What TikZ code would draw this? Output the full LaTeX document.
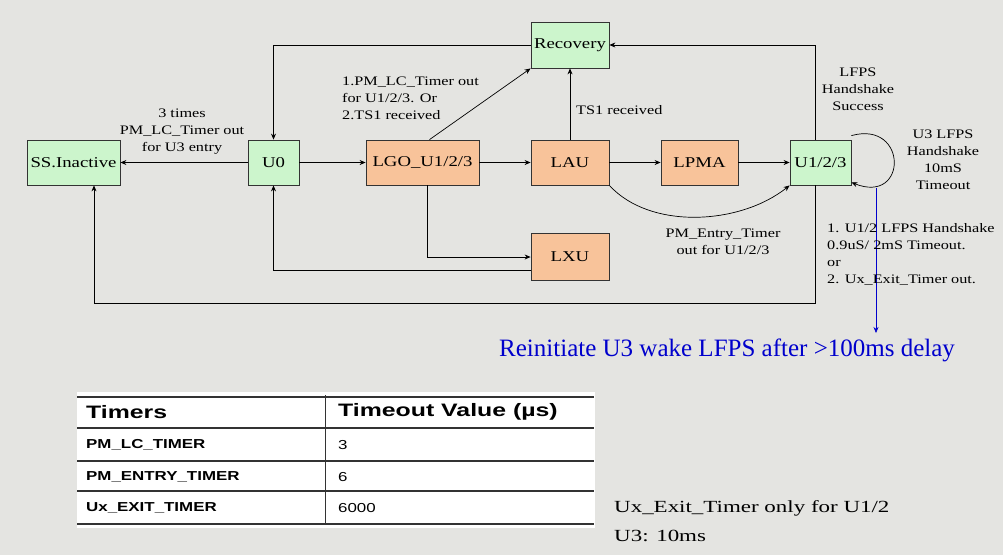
\documentclass[tikz,border=0pt]{standalone}
\usepackage{fontspec}
\setmainfont{Liberation Serif}
\newfontfamily\wideserif{Liberation Serif}[FakeStretch=1.25]
\newfontfamily\noteserif{Liberation Serif}[FakeStretch=1.35]
\newfontfamily\tabfont{Liberation Sans}[FakeStretch=1.3]
\newfontfamily\headfont{Liberation Sans}[FakeStretch=1.38]
\usetikzlibrary{arrows.meta}
\definecolor{bg}{HTML}{E4E4E1}
\definecolor{gfill}{HTML}{CCF5CC}
\definecolor{ofill}{HTML}{F8C39A}
\begin{document}
\begin{tikzpicture}[x=1pt,y=-1pt,
  box/.style={draw=black!80,line width=0.8pt,minimum height=45pt,inner sep=0pt,font=\wideserif\fontsize{15}{17}\selectfont},
  gbox/.style={box,fill=gfill},
  obox/.style={box,fill=ofill},
  con/.style={line width=0.7pt,-{Stealth[length=6pt,width=5pt]}},
  lab/.style={font=\wideserif\fontsize{13}{17}\selectfont,align=center,inner sep=1pt},
  tt/.style={font=\tabfont\fontsize{13}{15}\selectfont,anchor=west,inner sep=0pt}]
\fill[bg] (0,0) rectangle (1003,555);
\useasboundingbox (0,0) rectangle (1003,555);
% nodes
\node[gbox,minimum width=93pt] (ss) at (73.5,162.5) {SS.Inactive};
\node[gbox,minimum width=51pt] (u0) at (273.5,162.5) {U0};
\node[obox,minimum width=113pt] (lgo) at (422.5,162.5) {LGO\_U1/2/3};
\node[obox,minimum width=78pt] (lau) at (570,162.5) {LAU};
\node[obox,minimum width=77pt] (lpma) at (699.5,162.5) {LPMA};
\node[gbox,minimum width=61pt] (u123) at (820.5,162.5) {U1/2/3};
\node[gbox,minimum width=78pt,minimum height=46pt] (rec) at (570,45) {Recovery};
\node[obox,minimum width=78pt,minimum height=47pt] (lxu) at (570,256.5) {LXU};
% connectors
\draw[con] (u0) -- (ss);
\draw[con] (u0) -- (lgo);
\draw[con] (lgo) -- (lau);
\draw[con] (lau) -- (lpma);
\draw[con] (lpma) -- (u123);
\draw[con] (lau) -- (rec);
\draw[con] (lgo.north) ++(7,0) coordinate (lgot) -- (rec.south west);
\draw[con] (rec.west) -| (u0.north);
\draw[con] (u123.north -| 815,0) |- (rec.east);
\draw[con] (lgo.south) ++(5,0) coordinate (lgob) |- (lxu.west |- 0,257);
\draw[con] (lxu.west |- 0,270) -| (u0.south);
\draw[con] (u123.south -| 815,0) |- (94,303) -- (ss.south -| 94,0);
\draw[con] (lau.south east) .. controls (650,230) and (740,225) .. (u123.south west);
\draw[con] (u123.north east) ++(0,-4) .. controls (908,120) and (908,205) .. ([yshift=3pt]u123.south east);
\coordinate (bt) at (876,188);
\node[font=\fontsize{25}{28}\selectfont,text=blue!80!black,anchor=west,inner sep=0pt] (re) at (499,350) {Reinitiate U3 wake LFPS after >100ms delay};
\draw[blue!80!black,line width=0.6pt,-{Stealth[length=6pt,width=5pt]}] (bt) -- (876,333);
% labels
\node[lab] (l1) at (182,132) {3 times\\PM\_LC\_Timer out\\for U3 entry};
\node[lab,align=left,anchor=north west] (l2) at (341,76) {1.PM\_LC\_Timer out\\for U1/2/3. Or\\2.TS1 received};
\node[lab,anchor=west] (l3) at (575,110) {TS1 received};
\node[lab] (l4) at (858,89) {LFPS\\Handshake\\Success};
\node[lab] (l5) at (943,160) {U3 LFPS\\Handshake\\10mS\\Timeout};
\node[lab] (l6) at (723,242) {PM\_Entry\_Timer\\out for U1/2/3};
\node[lab,align=left,anchor=north west] (l7) at (826,222) {1. U1/2 LFPS Handshake\\0.9uS/ 2mS Timeout.\\or\\2. Ux\_Exit\_Timer out.};
% table
\fill[white] (77,392) rectangle (595,528);
\draw[line width=1.6pt,black!80] (77,397) -- (594,397);
\draw[line width=1.6pt,black!80] (77,428) -- (594,428);
\draw[line width=1.6pt,black!80] (77,461) -- (594,461);
\draw[line width=1.6pt,black!80] (77,491) -- (594,491);
\draw[line width=1.6pt,black!80] (77,524) -- (594,524);
\draw[line width=1pt,black!80] (325,395) -- (325,524);
\node[tt,font=\headfont\bfseries\fontsize{18}{20}\selectfont] (h1) at (86,412) {Timers};
\node[tt,font=\headfont\bfseries\fontsize{18}{20}\selectfont] (h2) at (338,412) {Timeout Value (µs)};
\node[tt,font=\tabfont\bfseries\fontsize{13}{15}\selectfont] (r1) at (86,445) {PM\_LC\_TIMER};
\node[tt,font=\tabfont\bfseries\fontsize{13}{15}\selectfont] (r2) at (86,477) {PM\_ENTRY\_TIMER};
\node[tt,font=\tabfont\bfseries\fontsize{13}{15}\selectfont] (r3) at (86,508) {Ux\_EXIT\_TIMER};
\node[tt] (v1) at (338,445) {3};
\node[tt] (v2) at (338,477) {6};
\node[tt] (v3) at (338,508) {6000};
\node[anchor=west,inner sep=0pt,font=\noteserif\fontsize{17}{19}\selectfont] (n1) at (614,508) {Ux\_Exit\_Timer only for U1/2};
\node[anchor=west,inner sep=0pt,font=\noteserif\fontsize{17}{19}\selectfont] (n2) at (614,536) {U3: 10ms};
\end{tikzpicture}
\end{document}
